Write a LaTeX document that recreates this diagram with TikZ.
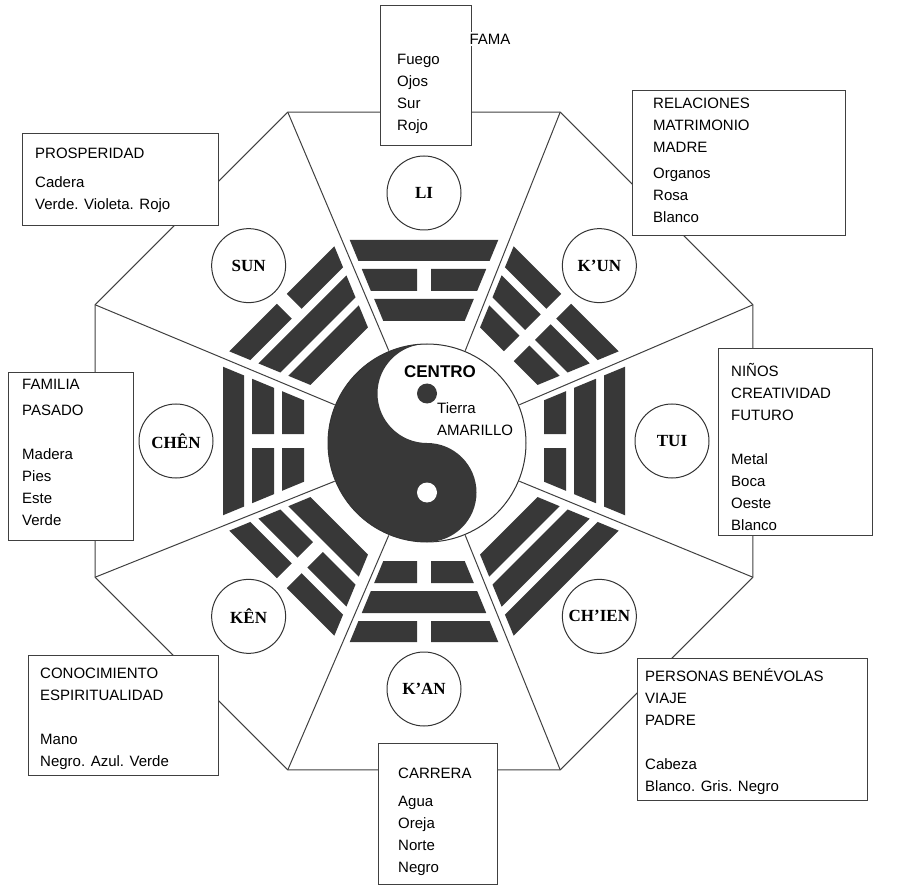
\documentclass[tikz,border=0pt]{standalone}
\usepackage{fontspec}
\setmainfont{Liberation Sans}
\newfontfamily\guafont{Liberation Serif}
\usetikzlibrary{positioning}

\tikzset{
    bagua/.style={fill=black!78},
    box/.style={draw=black!75, line width=1.1pt, fill=white, inner sep=0pt},
    txt/.style={inner sep=0pt, align=left, font=\fontsize{15}{22}\selectfont},
    gua/.style={circle, draw=black!80, line width=1pt, fill=white, minimum size=74pt,
        font=\guafont\bfseries\fontsize{17}{17}\selectfont}
}

% one band of a trigram: inner distance, outer distance, solid (1) or broken (0)
\newcommand{\tband}[3]{%
    \pgfmathsetmacro\wa{#1*0.4142-9}\pgfmathsetmacro\wb{#2*0.4142-9}%
    \ifnum#3=1
        \fill[bagua] (-\wa,-#1) -- (\wa,-#1) -- (\wb,-#2) -- (-\wb,-#2) -- cycle;
    \else
        \fill[bagua] (-\wa,-#1) -- (-7,-#1) -- (-7,-#2) -- (-\wb,-#2) -- cycle;
        \fill[bagua] (\wa,-#1) -- (7,-#1) -- (7,-#2) -- (\wb,-#2) -- cycle;
    \fi}

\begin{document}
\begin{tikzpicture}[x=1pt, y=-1pt]
    \useasboundingbox (0,0) rectangle (900,893);
    \coordinate (O) at (424,441);

    % octagon and spokes
    \foreach \k in {1,...,8} {
        \pgfmathsetmacro\ang{45*\k-22.5}
        \coordinate (v\k) at ({424+356*cos(\ang)},{441-356*sin(\ang)});
        \coordinate (s\k) at ({427+100*cos(\ang)},{443-100*sin(\ang)});
    }
    \draw[black!75, line width=1pt] (v1) -- (v2) -- (v3) -- (v4) -- (v5) -- (v6) -- (v7) -- (v8) -- cycle;
    \foreach \k in {1,...,8}
        \draw[black!75, line width=1pt] (s\k) -- (v\k);

    % trigrams: angle / outer / middle / inner
    \foreach \a/\o/\m/\i in {90/1/0/1, 45/0/0/0, 0/1/1/0, -45/1/1/1,
                             -90/0/1/0, -135/0/0/1, 180/1/0/0, 135/0/1/1} {
        \begin{scope}[shift={(O)}, rotate=\a-90]
            \tband{120}{142}{\i}
            \tband{150}{172}{\m}
            \tband{180}{201}{\o}
        \end{scope}
    }

    % yin yang
    \begin{scope}[shift={(427,443)}, y=1pt]
        \fill[white] (0,0) circle (99);
        \fill[bagua] (0,99) arc[start angle=90, end angle=270, radius=99]
            arc[start angle=-90, end angle=90, radius=49.5]
            arc[start angle=-90, end angle=-270, radius=49.5] -- cycle;
        \draw[black!80, line width=1pt] (0,0) circle (99);
        \fill[bagua] (0,49.5) circle (10);
        \fill[white] (0,-49.5) circle (10);
    \end{scope}
    \node[txt, font=\bfseries\fontsize{17}{17}\selectfont] (centro) at (440,372) {CENTRO};
    \node[txt, anchor=west] (tierra) at (437,408) {Tierra};
    \node[txt, anchor=west] (amarillo) at (437,430) {AMARILLO};

    % trigram names
    \foreach \a/\n in {90/LI, 45/K’UN, 0/TUI, -45/CH’IEN, -90/K’AN, -135/KÊN, 180/CHÊN, 135/SUN}
        \node[gua] (g\n) at ({424+248*cos(\a)},{441-248*sin(\a)}) {\n};

    % boxes
    \node[box, minimum width=91pt, minimum height=140pt, anchor=north west] (fama) at (380,5) {};
    \node[txt, fill=white, inner sep=2pt] (famat) at (490,39) {FAMA};
    \node[txt, anchor=north west] at ([shift={(17,49)}]fama.north west) {Fuego\\Ojos\\Sur\\Rojo};

    \node[box, minimum width=213pt, minimum height=145pt, anchor=north west] (rel) at (632,90) {};
    \node[txt, anchor=north west] at ([shift={(21,8)}]rel.north west)
        {RELACIONES\\MATRIMONIO\\MADRE\\[4pt]Organos\\Rosa\\Blanco};

    \node[box, minimum width=196pt, minimum height=92pt, anchor=north west] (prosp) at (22,133) {};
    \node[txt, anchor=north west] at ([shift={(13,15)}]prosp.north west)
        {PROSPERIDAD\\[7pt]Cadera\\Verde. Violeta. Rojo};

    \node[box, minimum width=154pt, minimum height=187pt, anchor=north west] (ninos) at (718,348) {};
    \node[txt, anchor=north west] at ([shift={(13,15)}]ninos.north west)
        {NIÑOS\\CREATIVIDAD\\FUTURO\\[22pt]Metal\\Boca\\Oeste\\Blanco};

    \node[box, minimum width=125pt, minimum height=168pt, anchor=north west] (fam) at (8,372) {};
    \node[txt, anchor=north west] at ([shift={(14,7)}]fam.north west)
        {FAMILIA\\[4pt]PASADO\\[22pt]Madera\\Pies\\Este\\Verde};

    \node[box, minimum width=190pt, minimum height=120pt, anchor=north west] (conoc) at (28,655) {};
    \node[txt, anchor=north west] at ([shift={(12,13)}]conoc.north west)
        {CONOCIMIENTO\\ESPIRITUALIDAD\\[22pt]Mano\\Negro. Azul. Verde};

    \node[box, minimum width=230pt, minimum height=142pt, anchor=north west] (pers) at (637,658) {};
    \node[txt, anchor=north west] at ([shift={(8,10)}]pers.north west)
        {PERSONAS BENÉVOLAS\\VIAJE\\PADRE\\[22pt]Cabeza\\Blanco. Gris. Negro};

    \node[box, minimum width=119pt, minimum height=141pt, anchor=north west] (carr) at (378,743) {};
    \node[txt, fill=white, inner sep=2pt, anchor=west] (carrt) at (396,773) {CARRERA};
    \node[txt, anchor=north west] at ([shift={(20,53)}]carr.north west) {Agua\\Oreja\\Norte\\Negro};
\end{tikzpicture}
\end{document}
